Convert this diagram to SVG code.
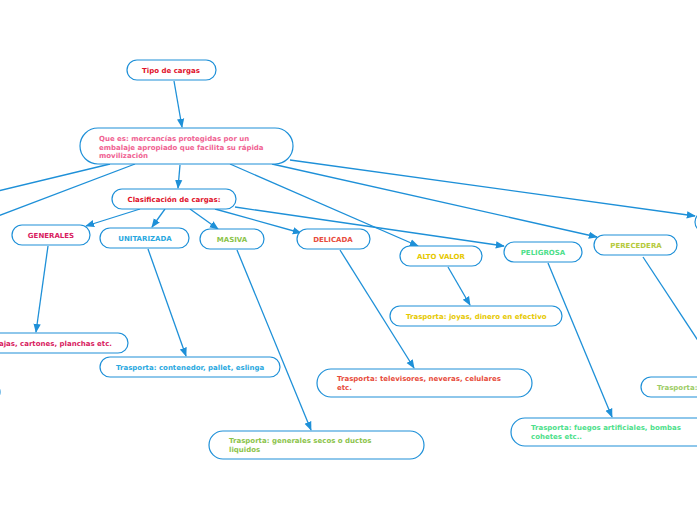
<svg xmlns="http://www.w3.org/2000/svg" width="697" height="520" viewBox="0 0 697 520">
<defs><marker id="a" viewBox="0 0 10 10" refX="9" refY="5" markerWidth="7" markerHeight="7" orient="auto"><path d="M0,1 L10,5 L0,9 z" fill="#1e90d8"/></marker></defs>
<style>
rect{fill:#fff;stroke:#1e90d8;stroke-width:1.2}
text{font-family:"DejaVu Sans",sans-serif;font-size:7px;font-weight:bold}
.c line{stroke:#1e90d8;stroke-width:1.3;marker-end:url(#a)}
</style>
<rect x="-1" y="-1" width="699" height="522" style="fill:#fff;stroke:none"/>
<g class="c">
<line x1="174" y1="81" x2="182" y2="127"/>
<line x1="180" y1="165" x2="178" y2="188"/>
<line x1="135" y1="164" x2="-2" y2="216" style="marker-end:none"/>
<line x1="110" y1="164" x2="-2" y2="191" style="marker-end:none"/>
<line x1="230" y1="164" x2="418" y2="246"/>
<line x1="272" y1="164" x2="597" y2="237"/>
<line x1="290" y1="160" x2="695" y2="216"/>
<line x1="140" y1="209" x2="86" y2="226"/>
<line x1="165" y1="209" x2="152" y2="227"/>
<line x1="190" y1="209" x2="218" y2="229"/>
<line x1="215" y1="209" x2="301" y2="233"/>
<line x1="235" y1="207" x2="504" y2="246"/>
<line x1="48" y1="246" x2="36" y2="332"/>
<line x1="148" y1="249" x2="186" y2="356"/>
<line x1="237" y1="250" x2="311" y2="430"/>
<line x1="340" y1="250" x2="414" y2="368"/>
<line x1="448" y1="267" x2="470" y2="305"/>
<line x1="548" y1="263" x2="612" y2="417"/>
<line x1="643" y1="257" x2="699" y2="342" style="marker-end:none"/>
</g>
<g id="tipo"><rect x="127" y="60" width="89" height="20" rx="10"/><text x="171" y="73" text-anchor="middle" fill="#e0102a">Tipo de cargas</text></g>
<g id="quees"><rect x="80" y="128" width="213" height="36" rx="18"/><text fill="#f06292"><tspan x="99" y="141">Que es: mercancías protegidas por un</tspan><tspan x="99" y="149.5">embalaje apropiado que facilita su rápida</tspan><tspan x="99" y="158">movilización</tspan></text></g>
<g id="clasif"><rect x="112" y="189" width="124" height="20" rx="10"/><text x="174" y="202" text-anchor="middle" fill="#e0102a">Clasificación de cargas:</text></g>
<g id="generales"><rect x="12" y="225" width="78" height="20" rx="10"/><text x="51" y="238" text-anchor="middle" fill="#d81b60">GENERALES</text></g>
<g id="unitarizada"><rect x="100" y="228" width="89" height="20" rx="10"/><text x="145" y="241" text-anchor="middle" fill="#29a8e0">UNITARIZADA</text></g>
<g id="masiva"><rect x="200" y="229" width="64" height="20" rx="10"/><text x="232" y="242" text-anchor="middle" fill="#8bc34a">MASIVA</text></g>
<g id="delicada"><rect x="297" y="229" width="73" height="20" rx="10"/><text x="333" y="242" text-anchor="middle" fill="#e74c3c">DELICADA</text></g>
<g id="altovalor"><rect x="400" y="246" width="82" height="20" rx="10"/><text x="441" y="259" text-anchor="middle" fill="#e6c800">ALTO VALOR</text></g>
<g id="peligrosa"><rect x="504" y="242" width="78" height="20" rx="10"/><text x="543" y="255" text-anchor="middle" fill="#4ce08a">PELIGROSA</text></g>
<g id="perecedera"><rect x="594" y="235" width="83" height="20" rx="10"/><text x="636" y="248" text-anchor="middle" fill="#b5c93a">PERECEDERA</text></g>
<g id="rightnode"><rect x="695" y="212" width="60" height="20" rx="10"/></g>
<g id="cajas"><rect x="-60" y="333" width="188" height="20" rx="10"/><text x="112" y="346" text-anchor="end" fill="#d81b60">Trasporta: cajas, cartones, planchas etc.</text></g>
<g id="leftnode"><rect x="-60" y="382" width="60" height="20" rx="10"/></g>
<g id="contenedor"><rect x="100" y="357" width="180" height="20" rx="10"/><text x="116" y="370" fill="#29a8e0">Trasporta: contenedor, pallet, eslinga</text></g>
<g id="joyas"><rect x="390" y="306" width="172" height="20" rx="10"/><text x="406" y="319" fill="#e6c800">Trasporta: joyas, dinero en efectivo</text></g>
<g id="televisores"><rect x="317" y="369" width="215" height="28" rx="14"/><text fill="#e74c3c"><tspan x="337" y="381">Trasporta: televisores, neveras, celulares</tspan><tspan x="337" y="390">etc.</tspan></text></g>
<g id="secos"><rect x="209" y="431" width="215" height="28" rx="14"/><text fill="#8bc34a"><tspan x="229" y="443">Trasporta: generales secos o ductos</tspan><tspan x="229" y="452">liquidos</tspan></text></g>
<g id="fuegos"><rect x="511" y="418" width="215" height="28" rx="14"/><text fill="#4ce08a"><tspan x="531" y="430">Trasporta: fuegos artificiales, bombas</tspan><tspan x="531" y="439">cohetes etc..</tspan></text></g>
<g id="perectr"><rect x="641" y="377" width="120" height="20" rx="10"/><text x="657" y="390" fill="#9ccc65">Trasporta:</text></g>
</svg>
